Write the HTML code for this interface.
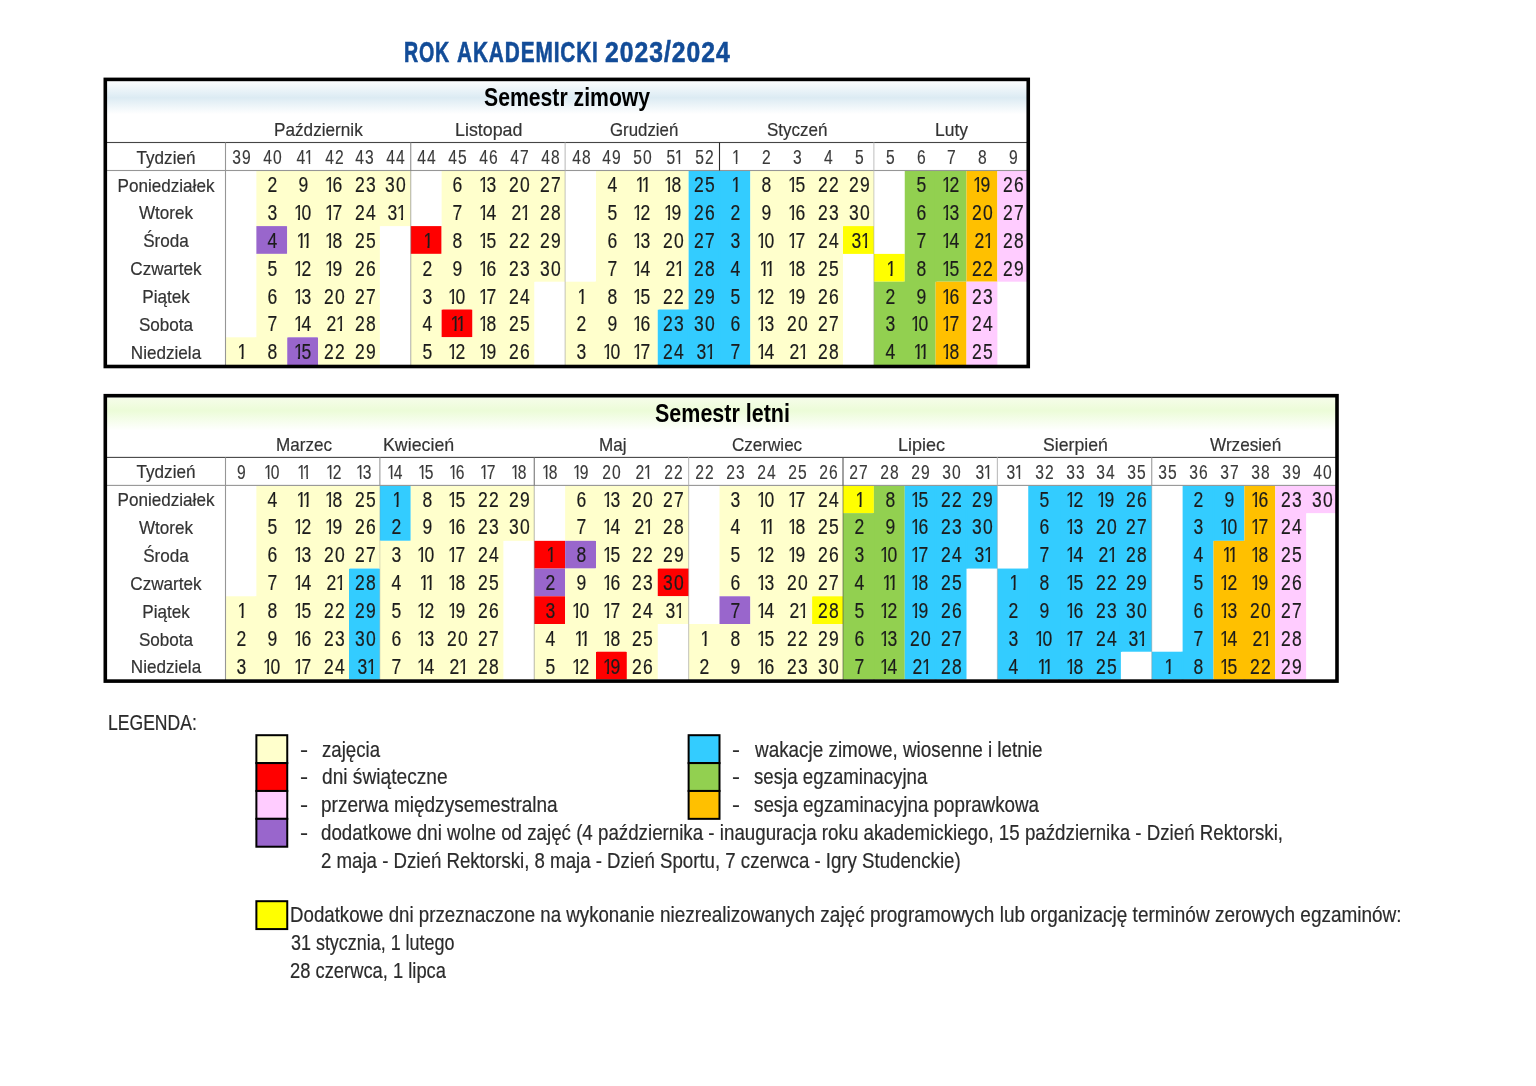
<!DOCTYPE html>
<html lang="pl"><head><meta charset="utf-8"><title>Rok akademicki 2023/2024</title>
<style>
html,body{margin:0;padding:0;background:#fff}
body{width:1536px;height:1086px;position:relative;overflow:hidden;font-family:"Liberation Sans",sans-serif}
svg{position:absolute;left:0;top:0}
span{position:absolute;white-space:nowrap;transform-origin:50% 50%}
span.l{transform-origin:0 50%}
i{font-style:normal;display:inline-block;margin:0 -0.2em 0 -0.09em}
.d i{clip-path:polygon(0 0,100% 0,100% 16px,7.75px 16px,7.75px 100%,5.15px 100%,5.15px 16px,0 16px)}
.wk i{clip-path:polygon(0 0,100% 0,100% 14px,6.8px 14px,6.8px 100%,4.9px 100%,4.9px 14px,0 14px)}
.d{font-size:22.6px;line-height:22.6px;color:#1c1c1c;letter-spacing:1.7px;-webkit-text-stroke:0.2px #1c1c1c}
.wk{font-size:19.8px;line-height:19.8px;color:#3a3a3a;letter-spacing:1.4px;-webkit-text-stroke:0.15px #3a3a3a}
.lab{font-size:19.0px;line-height:19.0px;color:#333333;-webkit-text-stroke:0.2px #333333}
.leg{font-size:21.2px;line-height:21.2px;color:#2b2b2b;-webkit-text-stroke:0.2px #2b2b2b}
.st{font-size:25.2px;line-height:25.2px;color:#000000;font-weight:bold}
.ti{font-size:29.3px;line-height:29.3px;color:#124c98;font-weight:bold;-webkit-text-stroke:0.6px #124c98}
</style></head>
<body>
<svg width="1536" height="1086" viewBox="0 0 1536 1086">
<linearGradient id="g0" x1="0" y1="0" x2="0" y2="1"><stop offset="0" stop-color="#fbfdfe"/><stop offset="0.5" stop-color="#dcebf3"/><stop offset="1" stop-color="#fff"/></linearGradient>
<rect x="105.3" y="81.2" width="922.95" height="33" fill="url(#g0)"/>
<rect x="225.50" y="337.30" width="30.88" height="27.80" fill="#ffffcc"/>
<rect x="256.38" y="170.50" width="30.88" height="55.60" fill="#ffffcc"/>
<rect x="256.38" y="226.10" width="30.88" height="27.80" fill="#9966cc"/>
<rect x="256.38" y="253.90" width="30.88" height="111.20" fill="#ffffcc"/>
<rect x="287.25" y="170.50" width="30.88" height="166.80" fill="#ffffcc"/>
<rect x="287.25" y="337.30" width="30.88" height="27.80" fill="#9966cc"/>
<rect x="318.12" y="170.50" width="30.88" height="194.60" fill="#ffffcc"/>
<rect x="349.00" y="170.50" width="30.88" height="194.60" fill="#ffffcc"/>
<rect x="379.88" y="170.50" width="30.88" height="55.60" fill="#ffffcc"/>
<rect x="410.75" y="226.10" width="30.88" height="27.80" fill="#ff0000"/>
<rect x="410.75" y="253.90" width="30.88" height="111.20" fill="#ffffcc"/>
<rect x="441.62" y="170.50" width="30.88" height="139.00" fill="#ffffcc"/>
<rect x="441.62" y="309.50" width="30.88" height="27.80" fill="#ff0000"/>
<rect x="441.62" y="337.30" width="30.88" height="27.80" fill="#ffffcc"/>
<rect x="472.50" y="170.50" width="30.88" height="194.60" fill="#ffffcc"/>
<rect x="503.38" y="170.50" width="30.88" height="194.60" fill="#ffffcc"/>
<rect x="534.25" y="170.50" width="30.88" height="111.20" fill="#ffffcc"/>
<rect x="565.12" y="281.70" width="30.88" height="83.40" fill="#ffffcc"/>
<rect x="596.00" y="170.50" width="30.88" height="194.60" fill="#ffffcc"/>
<rect x="626.88" y="170.50" width="30.88" height="194.60" fill="#ffffcc"/>
<rect x="657.75" y="170.50" width="30.88" height="139.00" fill="#ffffcc"/>
<rect x="657.75" y="309.50" width="30.88" height="55.60" fill="#33ccff"/>
<rect x="688.62" y="170.50" width="30.88" height="194.60" fill="#33ccff"/>
<rect x="719.50" y="170.50" width="30.88" height="194.60" fill="#33ccff"/>
<rect x="750.38" y="170.50" width="30.88" height="194.60" fill="#ffffcc"/>
<rect x="781.25" y="170.50" width="30.88" height="194.60" fill="#ffffcc"/>
<rect x="812.12" y="170.50" width="30.88" height="194.60" fill="#ffffcc"/>
<rect x="843.00" y="170.50" width="30.88" height="55.60" fill="#ffffcc"/>
<rect x="843.00" y="226.10" width="30.88" height="27.80" fill="#ffff00"/>
<rect x="873.88" y="253.90" width="30.88" height="27.80" fill="#ffff00"/>
<rect x="873.88" y="281.70" width="30.88" height="83.40" fill="#92d050"/>
<rect x="904.75" y="170.50" width="30.88" height="194.60" fill="#92d050"/>
<rect x="935.62" y="170.50" width="30.88" height="111.20" fill="#92d050"/>
<rect x="935.62" y="281.70" width="30.88" height="83.40" fill="#ffc000"/>
<rect x="966.50" y="170.50" width="30.88" height="111.20" fill="#ffc000"/>
<rect x="966.50" y="281.70" width="30.88" height="83.40" fill="#ffccff"/>
<rect x="997.38" y="170.50" width="30.88" height="111.20" fill="#ffccff"/>
<rect x="255.38" y="337.30" width="2.00" height="27.80" fill="#ffffcc"/>
<rect x="286.25" y="170.50" width="2.00" height="55.60" fill="#ffffcc"/>
<rect x="286.25" y="253.90" width="2.00" height="83.40" fill="#ffffcc"/>
<rect x="317.12" y="170.50" width="2.00" height="166.80" fill="#ffffcc"/>
<rect x="348.00" y="170.50" width="2.00" height="194.60" fill="#ffffcc"/>
<rect x="378.88" y="170.50" width="2.00" height="55.60" fill="#ffffcc"/>
<rect x="440.62" y="253.90" width="2.00" height="55.60" fill="#ffffcc"/>
<rect x="440.62" y="337.30" width="2.00" height="27.80" fill="#ffffcc"/>
<rect x="471.50" y="170.50" width="2.00" height="139.00" fill="#ffffcc"/>
<rect x="471.50" y="337.30" width="2.00" height="27.80" fill="#ffffcc"/>
<rect x="502.38" y="170.50" width="2.00" height="194.60" fill="#ffffcc"/>
<rect x="533.25" y="170.50" width="2.00" height="111.20" fill="#ffffcc"/>
<rect x="595.00" y="281.70" width="2.00" height="83.40" fill="#ffffcc"/>
<rect x="625.88" y="170.50" width="2.00" height="194.60" fill="#ffffcc"/>
<rect x="656.75" y="170.50" width="2.00" height="139.00" fill="#ffffcc"/>
<rect x="687.62" y="309.50" width="2.00" height="55.60" fill="#33ccff"/>
<rect x="718.50" y="170.50" width="2.00" height="194.60" fill="#33ccff"/>
<rect x="780.25" y="170.50" width="2.00" height="194.60" fill="#ffffcc"/>
<rect x="811.12" y="170.50" width="2.00" height="194.60" fill="#ffffcc"/>
<rect x="842.00" y="170.50" width="2.00" height="55.60" fill="#ffffcc"/>
<rect x="903.75" y="281.70" width="2.00" height="83.40" fill="#92d050"/>
<rect x="934.62" y="170.50" width="2.00" height="111.20" fill="#92d050"/>
<rect x="105.3" y="141.95" width="922.95" height="1.1" fill="#454545"/>
<rect x="105.3" y="169.95" width="922.95" height="1.1" fill="#969696"/>
<rect x="224.95" y="142.5" width="1.1" height="224" fill="#969696"/>
<rect x="410.2" y="142.5" width="1.1" height="28" fill="#8f8f8f"/>
<rect x="410.2" y="170.5" width="1.1" height="196" fill="rgba(120,120,120,.55)"/>
<rect x="564.575" y="142.5" width="1.1" height="28" fill="#bdbdbd"/>
<rect x="564.575" y="170.5" width="1.1" height="196" fill="rgba(150,150,150,.5)"/>
<rect x="718.95" y="142.5" width="1.1" height="28" fill="#2a2a2a"/>
<rect x="873.325" y="142.5" width="1.1" height="28" fill="#c4c4c4"/>
<rect x="873.325" y="170.5" width="1.1" height="196" fill="rgba(150,150,150,.45)"/>
<rect x="105.3" y="79.4" width="922.95" height="287.1" fill="none" stroke="#000" stroke-width="3.6"/>
<linearGradient id="g72" x1="0" y1="0" x2="0" y2="1"><stop offset="0" stop-color="#f6fdea"/><stop offset="0.4" stop-color="#ecfcd8"/><stop offset="1" stop-color="#fff"/></linearGradient>
<rect x="105.3" y="397.5" width="1231.7" height="33" fill="url(#g72)"/>
<rect x="225.50" y="596.28" width="30.88" height="83.16" fill="#ffffcc"/>
<rect x="256.38" y="485.40" width="30.88" height="194.04" fill="#ffffcc"/>
<rect x="287.25" y="485.40" width="30.88" height="194.04" fill="#ffffcc"/>
<rect x="318.12" y="485.40" width="30.88" height="194.04" fill="#ffffcc"/>
<rect x="349.00" y="485.40" width="30.88" height="83.16" fill="#ffffcc"/>
<rect x="349.00" y="568.56" width="30.88" height="110.88" fill="#33ccff"/>
<rect x="379.88" y="485.40" width="30.88" height="55.44" fill="#33ccff"/>
<rect x="379.88" y="540.84" width="30.88" height="138.60" fill="#ffffcc"/>
<rect x="410.75" y="485.40" width="30.88" height="194.04" fill="#ffffcc"/>
<rect x="441.62" y="485.40" width="30.88" height="194.04" fill="#ffffcc"/>
<rect x="472.50" y="485.40" width="30.88" height="194.04" fill="#ffffcc"/>
<rect x="503.38" y="485.40" width="30.88" height="55.44" fill="#ffffcc"/>
<rect x="534.25" y="540.84" width="30.88" height="27.72" fill="#ff0000"/>
<rect x="534.25" y="568.56" width="30.88" height="27.72" fill="#9966cc"/>
<rect x="534.25" y="596.28" width="30.88" height="27.72" fill="#ff0000"/>
<rect x="534.25" y="624.00" width="30.88" height="55.44" fill="#ffffcc"/>
<rect x="565.12" y="485.40" width="30.88" height="55.44" fill="#ffffcc"/>
<rect x="565.12" y="540.84" width="30.88" height="27.72" fill="#9966cc"/>
<rect x="565.12" y="568.56" width="30.88" height="110.88" fill="#ffffcc"/>
<rect x="596.00" y="485.40" width="30.88" height="166.32" fill="#ffffcc"/>
<rect x="596.00" y="651.72" width="30.88" height="27.72" fill="#ff0000"/>
<rect x="626.88" y="485.40" width="30.88" height="194.04" fill="#ffffcc"/>
<rect x="657.75" y="485.40" width="30.88" height="83.16" fill="#ffffcc"/>
<rect x="657.75" y="568.56" width="30.88" height="27.72" fill="#ff0000"/>
<rect x="657.75" y="596.28" width="30.88" height="27.72" fill="#ffffcc"/>
<rect x="688.62" y="624.00" width="30.88" height="55.44" fill="#ffffcc"/>
<rect x="719.50" y="485.40" width="30.88" height="110.88" fill="#ffffcc"/>
<rect x="719.50" y="596.28" width="30.88" height="27.72" fill="#9966cc"/>
<rect x="719.50" y="624.00" width="30.88" height="55.44" fill="#ffffcc"/>
<rect x="750.38" y="485.40" width="30.88" height="194.04" fill="#ffffcc"/>
<rect x="781.25" y="485.40" width="30.88" height="194.04" fill="#ffffcc"/>
<rect x="812.12" y="485.40" width="30.88" height="110.88" fill="#ffffcc"/>
<rect x="812.12" y="596.28" width="30.88" height="27.72" fill="#ffff00"/>
<rect x="812.12" y="624.00" width="30.88" height="55.44" fill="#ffffcc"/>
<rect x="843.00" y="485.40" width="30.88" height="27.72" fill="#ffff00"/>
<rect x="843.00" y="513.12" width="30.88" height="166.32" fill="#92d050"/>
<rect x="873.88" y="485.40" width="30.88" height="194.04" fill="#92d050"/>
<rect x="904.75" y="485.40" width="30.88" height="194.04" fill="#33ccff"/>
<rect x="935.62" y="485.40" width="30.88" height="194.04" fill="#33ccff"/>
<rect x="966.50" y="485.40" width="30.88" height="83.16" fill="#33ccff"/>
<rect x="997.38" y="568.56" width="30.88" height="110.88" fill="#33ccff"/>
<rect x="1028.25" y="485.40" width="30.88" height="194.04" fill="#33ccff"/>
<rect x="1059.12" y="485.40" width="30.88" height="194.04" fill="#33ccff"/>
<rect x="1090.00" y="485.40" width="30.88" height="194.04" fill="#33ccff"/>
<rect x="1120.88" y="485.40" width="30.88" height="166.32" fill="#33ccff"/>
<rect x="1151.75" y="651.72" width="30.88" height="27.72" fill="#33ccff"/>
<rect x="1182.62" y="485.40" width="30.88" height="194.04" fill="#33ccff"/>
<rect x="1213.50" y="485.40" width="30.88" height="55.44" fill="#33ccff"/>
<rect x="1213.50" y="540.84" width="30.88" height="138.60" fill="#ffc000"/>
<rect x="1244.38" y="485.40" width="30.88" height="194.04" fill="#ffc000"/>
<rect x="1275.25" y="485.40" width="30.88" height="194.04" fill="#ffccff"/>
<rect x="1306.12" y="485.40" width="30.88" height="27.72" fill="#ffccff"/>
<rect x="255.38" y="596.28" width="2.00" height="83.16" fill="#ffffcc"/>
<rect x="286.25" y="485.40" width="2.00" height="194.04" fill="#ffffcc"/>
<rect x="317.12" y="485.40" width="2.00" height="194.04" fill="#ffffcc"/>
<rect x="348.00" y="485.40" width="2.00" height="83.16" fill="#ffffcc"/>
<rect x="378.88" y="540.84" width="2.00" height="27.72" fill="#ffffcc"/>
<rect x="409.75" y="540.84" width="2.00" height="138.60" fill="#ffffcc"/>
<rect x="440.62" y="485.40" width="2.00" height="194.04" fill="#ffffcc"/>
<rect x="471.50" y="485.40" width="2.00" height="194.04" fill="#ffffcc"/>
<rect x="502.38" y="485.40" width="2.00" height="55.44" fill="#ffffcc"/>
<rect x="564.12" y="624.00" width="2.00" height="55.44" fill="#ffffcc"/>
<rect x="595.00" y="485.40" width="2.00" height="55.44" fill="#ffffcc"/>
<rect x="595.00" y="568.56" width="2.00" height="83.16" fill="#ffffcc"/>
<rect x="625.88" y="485.40" width="2.00" height="166.32" fill="#ffffcc"/>
<rect x="656.75" y="485.40" width="2.00" height="83.16" fill="#ffffcc"/>
<rect x="656.75" y="596.28" width="2.00" height="27.72" fill="#ffffcc"/>
<rect x="718.50" y="624.00" width="2.00" height="55.44" fill="#ffffcc"/>
<rect x="749.38" y="485.40" width="2.00" height="110.88" fill="#ffffcc"/>
<rect x="749.38" y="624.00" width="2.00" height="55.44" fill="#ffffcc"/>
<rect x="780.25" y="485.40" width="2.00" height="194.04" fill="#ffffcc"/>
<rect x="811.12" y="485.40" width="2.00" height="110.88" fill="#ffffcc"/>
<rect x="811.12" y="624.00" width="2.00" height="55.44" fill="#ffffcc"/>
<rect x="872.88" y="513.12" width="2.00" height="166.32" fill="#92d050"/>
<rect x="934.62" y="485.40" width="2.00" height="194.04" fill="#33ccff"/>
<rect x="965.50" y="485.40" width="2.00" height="83.16" fill="#33ccff"/>
<rect x="1027.25" y="568.56" width="2.00" height="110.88" fill="#33ccff"/>
<rect x="1058.12" y="485.40" width="2.00" height="194.04" fill="#33ccff"/>
<rect x="1089.00" y="485.40" width="2.00" height="194.04" fill="#33ccff"/>
<rect x="1119.88" y="485.40" width="2.00" height="166.32" fill="#33ccff"/>
<rect x="1181.62" y="651.72" width="2.00" height="27.72" fill="#33ccff"/>
<rect x="1212.50" y="485.40" width="2.00" height="55.44" fill="#33ccff"/>
<rect x="1243.38" y="540.84" width="2.00" height="138.60" fill="#ffc000"/>
<rect x="1305.12" y="485.40" width="2.00" height="27.72" fill="#ffccff"/>
<rect x="105.3" y="456.85" width="1231.7" height="1.1" fill="#454545"/>
<rect x="105.3" y="484.85" width="1231.7" height="1.1" fill="#969696"/>
<rect x="224.95" y="457.4" width="1.1" height="223.7" fill="#969696"/>
<rect x="379.325" y="457.4" width="1.1" height="28" fill="#999"/>
<rect x="379.325" y="485.4" width="1.1" height="195.7" fill="rgba(140,140,140,.3)"/>
<rect x="533.7" y="457.4" width="1.1" height="28" fill="#777"/>
<rect x="533.7" y="485.4" width="1.1" height="195.7" fill="rgba(110,110,110,.45)"/>
<rect x="688.075" y="457.4" width="1.1" height="28" fill="#bdbdbd"/>
<rect x="688.075" y="485.4" width="1.1" height="195.7" fill="rgba(150,150,150,.5)"/>
<rect x="842.45" y="457.4" width="1.1" height="28" fill="#555"/>
<rect x="842.45" y="485.4" width="1.1" height="195.7" fill="rgba(70,70,70,.55)"/>
<rect x="996.825" y="457.4" width="1.1" height="28" fill="#bdbdbd"/>
<rect x="996.825" y="485.4" width="1.1" height="195.7" fill="rgba(150,150,150,.4)"/>
<rect x="1151.2" y="457.4" width="1.1" height="28" fill="#999"/>
<rect x="1151.2" y="485.4" width="1.1" height="195.7" fill="rgba(140,140,140,.4)"/>
<rect x="105.3" y="395.7" width="1231.7" height="285.4" fill="none" stroke="#000" stroke-width="3.6"/>
<rect x="256.375" y="735.2" width="30.875" height="27.88" fill="#ffffcc" stroke="#000" stroke-width="2.0"/>
<rect x="256.375" y="763.08" width="30.875" height="27.88" fill="#ff0000" stroke="#000" stroke-width="2.0"/>
<rect x="256.375" y="790.96" width="30.875" height="27.88" fill="#ffccff" stroke="#000" stroke-width="2.0"/>
<rect x="256.375" y="818.84" width="30.875" height="27.88" fill="#9966cc" stroke="#000" stroke-width="2.0"/>
<rect x="688.625" y="735.2" width="30.875" height="27.88" fill="#33ccff" stroke="#000" stroke-width="2.0"/>
<rect x="688.625" y="763.08" width="30.875" height="27.88" fill="#92d050" stroke="#000" stroke-width="2.0"/>
<rect x="688.625" y="790.96" width="30.875" height="27.88" fill="#ffc000" stroke="#000" stroke-width="2.0"/>
<rect x="256.375" y="901.2" width="30.875" height="27.88" fill="#ffff00" stroke="#000" stroke-width="2.0"/>
</svg>
<span class="lab l" style="left:274.10px;top:120px;transform:scaleX(0.9037)">Październik</span>
<span class="wk" style="left:241.89px;top:148px;transform:translateX(-50%) scaleX(0.79)">39</span>
<span class="wk" style="left:272.76px;top:148px;transform:translateX(-50%) scaleX(0.79)">40</span>
<span class="wk" style="left:303.64px;top:148px;transform:translateX(-50%) scaleX(0.79)">4<i>1</i></span>
<span class="wk" style="left:334.51px;top:148px;transform:translateX(-50%) scaleX(0.79)">42</span>
<span class="wk" style="left:365.39px;top:148px;transform:translateX(-50%) scaleX(0.79)">43</span>
<span class="wk" style="left:396.26px;top:148px;transform:translateX(-50%) scaleX(0.79)">44</span>
<span class="d" style="left:242.34px;top:341px;transform:translateX(-50%) scaleX(0.775)"><i>1</i></span>
<span class="d" style="left:273.21px;top:174px;transform:translateX(-50%) scaleX(0.775)">2</span>
<span class="d" style="left:273.21px;top:202px;transform:translateX(-50%) scaleX(0.775)">3</span>
<span class="d" style="left:273.21px;top:230px;transform:translateX(-50%) scaleX(0.775)">4</span>
<span class="d" style="left:273.21px;top:258px;transform:translateX(-50%) scaleX(0.775)">5</span>
<span class="d" style="left:273.21px;top:286px;transform:translateX(-50%) scaleX(0.775)">6</span>
<span class="d" style="left:273.21px;top:313px;transform:translateX(-50%) scaleX(0.775)">7</span>
<span class="d" style="left:273.21px;top:341px;transform:translateX(-50%) scaleX(0.775)">8</span>
<span class="d" style="left:304.09px;top:174px;transform:translateX(-50%) scaleX(0.775)">9</span>
<span class="d" style="left:303.79px;top:202px;transform:translateX(-50%) scaleX(0.775)"><i>1</i>0</span>
<span class="d" style="left:303.79px;top:230px;transform:translateX(-50%) scaleX(0.775)"><i>1</i><i>1</i></span>
<span class="d" style="left:303.79px;top:258px;transform:translateX(-50%) scaleX(0.775)"><i>1</i>2</span>
<span class="d" style="left:303.79px;top:286px;transform:translateX(-50%) scaleX(0.775)"><i>1</i>3</span>
<span class="d" style="left:303.79px;top:313px;transform:translateX(-50%) scaleX(0.775)"><i>1</i>4</span>
<span class="d" style="left:303.79px;top:341px;transform:translateX(-50%) scaleX(0.775)"><i>1</i>5</span>
<span class="d" style="left:334.66px;top:174px;transform:translateX(-50%) scaleX(0.775)"><i>1</i>6</span>
<span class="d" style="left:334.66px;top:202px;transform:translateX(-50%) scaleX(0.775)"><i>1</i>7</span>
<span class="d" style="left:334.66px;top:230px;transform:translateX(-50%) scaleX(0.775)"><i>1</i>8</span>
<span class="d" style="left:334.66px;top:258px;transform:translateX(-50%) scaleX(0.775)"><i>1</i>9</span>
<span class="d" style="left:334.66px;top:286px;transform:translateX(-50%) scaleX(0.775)">20</span>
<span class="d" style="left:334.66px;top:313px;transform:translateX(-50%) scaleX(0.775)">2<i>1</i></span>
<span class="d" style="left:334.66px;top:341px;transform:translateX(-50%) scaleX(0.775)">22</span>
<span class="d" style="left:365.54px;top:174px;transform:translateX(-50%) scaleX(0.775)">23</span>
<span class="d" style="left:365.54px;top:202px;transform:translateX(-50%) scaleX(0.775)">24</span>
<span class="d" style="left:365.54px;top:230px;transform:translateX(-50%) scaleX(0.775)">25</span>
<span class="d" style="left:365.54px;top:258px;transform:translateX(-50%) scaleX(0.775)">26</span>
<span class="d" style="left:365.54px;top:286px;transform:translateX(-50%) scaleX(0.775)">27</span>
<span class="d" style="left:365.54px;top:313px;transform:translateX(-50%) scaleX(0.775)">28</span>
<span class="d" style="left:365.54px;top:341px;transform:translateX(-50%) scaleX(0.775)">29</span>
<span class="d" style="left:396.41px;top:174px;transform:translateX(-50%) scaleX(0.775)">30</span>
<span class="d" style="left:396.41px;top:202px;transform:translateX(-50%) scaleX(0.775)">3<i>1</i></span>
<span class="lab l" style="left:455.06px;top:120px;transform:scaleX(0.9393)">Listopad</span>
<span class="wk" style="left:427.14px;top:148px;transform:translateX(-50%) scaleX(0.79)">44</span>
<span class="wk" style="left:458.01px;top:148px;transform:translateX(-50%) scaleX(0.79)">45</span>
<span class="wk" style="left:488.89px;top:148px;transform:translateX(-50%) scaleX(0.79)">46</span>
<span class="wk" style="left:519.76px;top:148px;transform:translateX(-50%) scaleX(0.79)">47</span>
<span class="wk" style="left:550.64px;top:148px;transform:translateX(-50%) scaleX(0.79)">48</span>
<span class="d" style="left:427.59px;top:230px;transform:translateX(-50%) scaleX(0.775)"><i>1</i></span>
<span class="d" style="left:427.59px;top:258px;transform:translateX(-50%) scaleX(0.775)">2</span>
<span class="d" style="left:427.59px;top:286px;transform:translateX(-50%) scaleX(0.775)">3</span>
<span class="d" style="left:427.59px;top:313px;transform:translateX(-50%) scaleX(0.775)">4</span>
<span class="d" style="left:427.59px;top:341px;transform:translateX(-50%) scaleX(0.775)">5</span>
<span class="d" style="left:458.46px;top:174px;transform:translateX(-50%) scaleX(0.775)">6</span>
<span class="d" style="left:458.46px;top:202px;transform:translateX(-50%) scaleX(0.775)">7</span>
<span class="d" style="left:458.46px;top:230px;transform:translateX(-50%) scaleX(0.775)">8</span>
<span class="d" style="left:458.46px;top:258px;transform:translateX(-50%) scaleX(0.775)">9</span>
<span class="d" style="left:458.16px;top:286px;transform:translateX(-50%) scaleX(0.775)"><i>1</i>0</span>
<span class="d" style="left:458.16px;top:313px;transform:translateX(-50%) scaleX(0.775)"><i>1</i><i>1</i></span>
<span class="d" style="left:458.16px;top:341px;transform:translateX(-50%) scaleX(0.775)"><i>1</i>2</span>
<span class="d" style="left:489.04px;top:174px;transform:translateX(-50%) scaleX(0.775)"><i>1</i>3</span>
<span class="d" style="left:489.04px;top:202px;transform:translateX(-50%) scaleX(0.775)"><i>1</i>4</span>
<span class="d" style="left:489.04px;top:230px;transform:translateX(-50%) scaleX(0.775)"><i>1</i>5</span>
<span class="d" style="left:489.04px;top:258px;transform:translateX(-50%) scaleX(0.775)"><i>1</i>6</span>
<span class="d" style="left:489.04px;top:286px;transform:translateX(-50%) scaleX(0.775)"><i>1</i>7</span>
<span class="d" style="left:489.04px;top:313px;transform:translateX(-50%) scaleX(0.775)"><i>1</i>8</span>
<span class="d" style="left:489.04px;top:341px;transform:translateX(-50%) scaleX(0.775)"><i>1</i>9</span>
<span class="d" style="left:519.91px;top:174px;transform:translateX(-50%) scaleX(0.775)">20</span>
<span class="d" style="left:519.91px;top:202px;transform:translateX(-50%) scaleX(0.775)">2<i>1</i></span>
<span class="d" style="left:519.91px;top:230px;transform:translateX(-50%) scaleX(0.775)">22</span>
<span class="d" style="left:519.91px;top:258px;transform:translateX(-50%) scaleX(0.775)">23</span>
<span class="d" style="left:519.91px;top:286px;transform:translateX(-50%) scaleX(0.775)">24</span>
<span class="d" style="left:519.91px;top:313px;transform:translateX(-50%) scaleX(0.775)">25</span>
<span class="d" style="left:519.91px;top:341px;transform:translateX(-50%) scaleX(0.775)">26</span>
<span class="d" style="left:550.79px;top:174px;transform:translateX(-50%) scaleX(0.775)">27</span>
<span class="d" style="left:550.79px;top:202px;transform:translateX(-50%) scaleX(0.775)">28</span>
<span class="d" style="left:550.79px;top:230px;transform:translateX(-50%) scaleX(0.775)">29</span>
<span class="d" style="left:550.79px;top:258px;transform:translateX(-50%) scaleX(0.775)">30</span>
<span class="lab l" style="left:609.60px;top:120px;transform:scaleX(0.886)">Grudzień</span>
<span class="wk" style="left:581.51px;top:148px;transform:translateX(-50%) scaleX(0.79)">48</span>
<span class="wk" style="left:612.39px;top:148px;transform:translateX(-50%) scaleX(0.79)">49</span>
<span class="wk" style="left:643.26px;top:148px;transform:translateX(-50%) scaleX(0.79)">50</span>
<span class="wk" style="left:674.14px;top:148px;transform:translateX(-50%) scaleX(0.79)">5<i>1</i></span>
<span class="wk" style="left:705.01px;top:148px;transform:translateX(-50%) scaleX(0.79)">52</span>
<span class="d" style="left:581.96px;top:286px;transform:translateX(-50%) scaleX(0.775)"><i>1</i></span>
<span class="d" style="left:581.96px;top:313px;transform:translateX(-50%) scaleX(0.775)">2</span>
<span class="d" style="left:581.96px;top:341px;transform:translateX(-50%) scaleX(0.775)">3</span>
<span class="d" style="left:612.84px;top:174px;transform:translateX(-50%) scaleX(0.775)">4</span>
<span class="d" style="left:612.84px;top:202px;transform:translateX(-50%) scaleX(0.775)">5</span>
<span class="d" style="left:612.84px;top:230px;transform:translateX(-50%) scaleX(0.775)">6</span>
<span class="d" style="left:612.84px;top:258px;transform:translateX(-50%) scaleX(0.775)">7</span>
<span class="d" style="left:612.84px;top:286px;transform:translateX(-50%) scaleX(0.775)">8</span>
<span class="d" style="left:612.84px;top:313px;transform:translateX(-50%) scaleX(0.775)">9</span>
<span class="d" style="left:612.54px;top:341px;transform:translateX(-50%) scaleX(0.775)"><i>1</i>0</span>
<span class="d" style="left:643.41px;top:174px;transform:translateX(-50%) scaleX(0.775)"><i>1</i><i>1</i></span>
<span class="d" style="left:643.41px;top:202px;transform:translateX(-50%) scaleX(0.775)"><i>1</i>2</span>
<span class="d" style="left:643.41px;top:230px;transform:translateX(-50%) scaleX(0.775)"><i>1</i>3</span>
<span class="d" style="left:643.41px;top:258px;transform:translateX(-50%) scaleX(0.775)"><i>1</i>4</span>
<span class="d" style="left:643.41px;top:286px;transform:translateX(-50%) scaleX(0.775)"><i>1</i>5</span>
<span class="d" style="left:643.41px;top:313px;transform:translateX(-50%) scaleX(0.775)"><i>1</i>6</span>
<span class="d" style="left:643.41px;top:341px;transform:translateX(-50%) scaleX(0.775)"><i>1</i>7</span>
<span class="d" style="left:674.29px;top:174px;transform:translateX(-50%) scaleX(0.775)"><i>1</i>8</span>
<span class="d" style="left:674.29px;top:202px;transform:translateX(-50%) scaleX(0.775)"><i>1</i>9</span>
<span class="d" style="left:674.29px;top:230px;transform:translateX(-50%) scaleX(0.775)">20</span>
<span class="d" style="left:674.29px;top:258px;transform:translateX(-50%) scaleX(0.775)">2<i>1</i></span>
<span class="d" style="left:674.29px;top:286px;transform:translateX(-50%) scaleX(0.775)">22</span>
<span class="d" style="left:674.29px;top:313px;transform:translateX(-50%) scaleX(0.775)">23</span>
<span class="d" style="left:674.29px;top:341px;transform:translateX(-50%) scaleX(0.775)">24</span>
<span class="d" style="left:705.16px;top:174px;transform:translateX(-50%) scaleX(0.775)">25</span>
<span class="d" style="left:705.16px;top:202px;transform:translateX(-50%) scaleX(0.775)">26</span>
<span class="d" style="left:705.16px;top:230px;transform:translateX(-50%) scaleX(0.775)">27</span>
<span class="d" style="left:705.16px;top:258px;transform:translateX(-50%) scaleX(0.775)">28</span>
<span class="d" style="left:705.16px;top:286px;transform:translateX(-50%) scaleX(0.775)">29</span>
<span class="d" style="left:705.16px;top:313px;transform:translateX(-50%) scaleX(0.775)">30</span>
<span class="d" style="left:705.16px;top:341px;transform:translateX(-50%) scaleX(0.775)">3<i>1</i></span>
<span class="lab l" style="left:767.30px;top:120px;transform:scaleX(0.8953)">Styczeń</span>
<span class="wk" style="left:736.29px;top:148px;transform:translateX(-50%) scaleX(0.79)"><i>1</i></span>
<span class="wk" style="left:767.16px;top:148px;transform:translateX(-50%) scaleX(0.79)">2</span>
<span class="wk" style="left:798.04px;top:148px;transform:translateX(-50%) scaleX(0.79)">3</span>
<span class="wk" style="left:828.91px;top:148px;transform:translateX(-50%) scaleX(0.79)">4</span>
<span class="wk" style="left:859.79px;top:148px;transform:translateX(-50%) scaleX(0.79)">5</span>
<span class="d" style="left:736.34px;top:174px;transform:translateX(-50%) scaleX(0.775)"><i>1</i></span>
<span class="d" style="left:736.34px;top:202px;transform:translateX(-50%) scaleX(0.775)">2</span>
<span class="d" style="left:736.34px;top:230px;transform:translateX(-50%) scaleX(0.775)">3</span>
<span class="d" style="left:736.34px;top:258px;transform:translateX(-50%) scaleX(0.775)">4</span>
<span class="d" style="left:736.34px;top:286px;transform:translateX(-50%) scaleX(0.775)">5</span>
<span class="d" style="left:736.34px;top:313px;transform:translateX(-50%) scaleX(0.775)">6</span>
<span class="d" style="left:736.34px;top:341px;transform:translateX(-50%) scaleX(0.775)">7</span>
<span class="d" style="left:767.21px;top:174px;transform:translateX(-50%) scaleX(0.775)">8</span>
<span class="d" style="left:767.21px;top:202px;transform:translateX(-50%) scaleX(0.775)">9</span>
<span class="d" style="left:766.91px;top:230px;transform:translateX(-50%) scaleX(0.775)"><i>1</i>0</span>
<span class="d" style="left:766.91px;top:258px;transform:translateX(-50%) scaleX(0.775)"><i>1</i><i>1</i></span>
<span class="d" style="left:766.91px;top:286px;transform:translateX(-50%) scaleX(0.775)"><i>1</i>2</span>
<span class="d" style="left:766.91px;top:313px;transform:translateX(-50%) scaleX(0.775)"><i>1</i>3</span>
<span class="d" style="left:766.91px;top:341px;transform:translateX(-50%) scaleX(0.775)"><i>1</i>4</span>
<span class="d" style="left:797.79px;top:174px;transform:translateX(-50%) scaleX(0.775)"><i>1</i>5</span>
<span class="d" style="left:797.79px;top:202px;transform:translateX(-50%) scaleX(0.775)"><i>1</i>6</span>
<span class="d" style="left:797.79px;top:230px;transform:translateX(-50%) scaleX(0.775)"><i>1</i>7</span>
<span class="d" style="left:797.79px;top:258px;transform:translateX(-50%) scaleX(0.775)"><i>1</i>8</span>
<span class="d" style="left:797.79px;top:286px;transform:translateX(-50%) scaleX(0.775)"><i>1</i>9</span>
<span class="d" style="left:797.79px;top:313px;transform:translateX(-50%) scaleX(0.775)">20</span>
<span class="d" style="left:797.79px;top:341px;transform:translateX(-50%) scaleX(0.775)">2<i>1</i></span>
<span class="d" style="left:828.66px;top:174px;transform:translateX(-50%) scaleX(0.775)">22</span>
<span class="d" style="left:828.66px;top:202px;transform:translateX(-50%) scaleX(0.775)">23</span>
<span class="d" style="left:828.66px;top:230px;transform:translateX(-50%) scaleX(0.775)">24</span>
<span class="d" style="left:828.66px;top:258px;transform:translateX(-50%) scaleX(0.775)">25</span>
<span class="d" style="left:828.66px;top:286px;transform:translateX(-50%) scaleX(0.775)">26</span>
<span class="d" style="left:828.66px;top:313px;transform:translateX(-50%) scaleX(0.775)">27</span>
<span class="d" style="left:828.66px;top:341px;transform:translateX(-50%) scaleX(0.775)">28</span>
<span class="d" style="left:859.54px;top:174px;transform:translateX(-50%) scaleX(0.775)">29</span>
<span class="d" style="left:859.54px;top:202px;transform:translateX(-50%) scaleX(0.775)">30</span>
<span class="d" style="left:859.54px;top:230px;transform:translateX(-50%) scaleX(0.775)">3<i>1</i></span>
<span class="lab l" style="left:934.88px;top:120px;transform:scaleX(0.9178)">Luty</span>
<span class="wk" style="left:890.66px;top:148px;transform:translateX(-50%) scaleX(0.79)">5</span>
<span class="wk" style="left:921.54px;top:148px;transform:translateX(-50%) scaleX(0.79)">6</span>
<span class="wk" style="left:952.41px;top:148px;transform:translateX(-50%) scaleX(0.79)">7</span>
<span class="wk" style="left:983.29px;top:148px;transform:translateX(-50%) scaleX(0.79)">8</span>
<span class="wk" style="left:1014.16px;top:148px;transform:translateX(-50%) scaleX(0.79)">9</span>
<span class="d" style="left:890.71px;top:258px;transform:translateX(-50%) scaleX(0.775)"><i>1</i></span>
<span class="d" style="left:890.71px;top:286px;transform:translateX(-50%) scaleX(0.775)">2</span>
<span class="d" style="left:890.71px;top:313px;transform:translateX(-50%) scaleX(0.775)">3</span>
<span class="d" style="left:890.71px;top:341px;transform:translateX(-50%) scaleX(0.775)">4</span>
<span class="d" style="left:921.59px;top:174px;transform:translateX(-50%) scaleX(0.775)">5</span>
<span class="d" style="left:921.59px;top:202px;transform:translateX(-50%) scaleX(0.775)">6</span>
<span class="d" style="left:921.59px;top:230px;transform:translateX(-50%) scaleX(0.775)">7</span>
<span class="d" style="left:921.59px;top:258px;transform:translateX(-50%) scaleX(0.775)">8</span>
<span class="d" style="left:921.59px;top:286px;transform:translateX(-50%) scaleX(0.775)">9</span>
<span class="d" style="left:921.29px;top:313px;transform:translateX(-50%) scaleX(0.775)"><i>1</i>0</span>
<span class="d" style="left:921.29px;top:341px;transform:translateX(-50%) scaleX(0.775)"><i>1</i><i>1</i></span>
<span class="d" style="left:952.16px;top:174px;transform:translateX(-50%) scaleX(0.775)"><i>1</i>2</span>
<span class="d" style="left:952.16px;top:202px;transform:translateX(-50%) scaleX(0.775)"><i>1</i>3</span>
<span class="d" style="left:952.16px;top:230px;transform:translateX(-50%) scaleX(0.775)"><i>1</i>4</span>
<span class="d" style="left:952.16px;top:258px;transform:translateX(-50%) scaleX(0.775)"><i>1</i>5</span>
<span class="d" style="left:952.16px;top:286px;transform:translateX(-50%) scaleX(0.775)"><i>1</i>6</span>
<span class="d" style="left:952.16px;top:313px;transform:translateX(-50%) scaleX(0.775)"><i>1</i>7</span>
<span class="d" style="left:952.16px;top:341px;transform:translateX(-50%) scaleX(0.775)"><i>1</i>8</span>
<span class="d" style="left:983.04px;top:174px;transform:translateX(-50%) scaleX(0.775)"><i>1</i>9</span>
<span class="d" style="left:983.04px;top:202px;transform:translateX(-50%) scaleX(0.775)">20</span>
<span class="d" style="left:983.04px;top:230px;transform:translateX(-50%) scaleX(0.775)">2<i>1</i></span>
<span class="d" style="left:983.04px;top:258px;transform:translateX(-50%) scaleX(0.775)">22</span>
<span class="d" style="left:983.04px;top:286px;transform:translateX(-50%) scaleX(0.775)">23</span>
<span class="d" style="left:983.04px;top:313px;transform:translateX(-50%) scaleX(0.775)">24</span>
<span class="d" style="left:983.04px;top:341px;transform:translateX(-50%) scaleX(0.775)">25</span>
<span class="d" style="left:1013.91px;top:174px;transform:translateX(-50%) scaleX(0.775)">26</span>
<span class="d" style="left:1013.91px;top:202px;transform:translateX(-50%) scaleX(0.775)">27</span>
<span class="d" style="left:1013.91px;top:230px;transform:translateX(-50%) scaleX(0.775)">28</span>
<span class="d" style="left:1013.91px;top:258px;transform:translateX(-50%) scaleX(0.775)">29</span>
<span class="lab" style="left:165.90px;top:148px;transform:translateX(-50%) scaleX(0.9)">Tydzień</span>
<span class="lab" style="left:165.90px;top:176px;transform:translateX(-50%) scaleX(0.9)">Poniedziałek</span>
<span class="lab" style="left:165.90px;top:203px;transform:translateX(-50%) scaleX(0.9)">Wtorek</span>
<span class="lab" style="left:165.90px;top:231px;transform:translateX(-50%) scaleX(0.9)">Środa</span>
<span class="lab" style="left:165.90px;top:259px;transform:translateX(-50%) scaleX(0.9)">Czwartek</span>
<span class="lab" style="left:165.90px;top:287px;transform:translateX(-50%) scaleX(0.9)">Piątek</span>
<span class="lab" style="left:165.90px;top:315px;transform:translateX(-50%) scaleX(0.9)">Sobota</span>
<span class="lab" style="left:165.90px;top:343px;transform:translateX(-50%) scaleX(0.9)">Niedziela</span>
<span class="st l" style="left:484.30px;top:85px;transform:scaleX(0.8416)">Semestr zimowy</span>
<span class="lab l" style="left:275.70px;top:435px;transform:scaleX(0.8982)">Marzec</span>
<span class="wk" style="left:242.29px;top:463px;transform:translateX(-50%) scaleX(0.79)">9</span>
<span class="wk" style="left:272.76px;top:463px;transform:translateX(-50%) scaleX(0.79)"><i>1</i>0</span>
<span class="wk" style="left:303.64px;top:463px;transform:translateX(-50%) scaleX(0.79)"><i>1</i><i>1</i></span>
<span class="wk" style="left:334.51px;top:463px;transform:translateX(-50%) scaleX(0.79)"><i>1</i>2</span>
<span class="wk" style="left:365.39px;top:463px;transform:translateX(-50%) scaleX(0.79)"><i>1</i>3</span>
<span class="d" style="left:242.34px;top:600px;transform:translateX(-50%) scaleX(0.775)"><i>1</i></span>
<span class="d" style="left:242.34px;top:628px;transform:translateX(-50%) scaleX(0.775)">2</span>
<span class="d" style="left:242.34px;top:656px;transform:translateX(-50%) scaleX(0.775)">3</span>
<span class="d" style="left:273.21px;top:489px;transform:translateX(-50%) scaleX(0.775)">4</span>
<span class="d" style="left:273.21px;top:516px;transform:translateX(-50%) scaleX(0.775)">5</span>
<span class="d" style="left:273.21px;top:544px;transform:translateX(-50%) scaleX(0.775)">6</span>
<span class="d" style="left:273.21px;top:572px;transform:translateX(-50%) scaleX(0.775)">7</span>
<span class="d" style="left:273.21px;top:600px;transform:translateX(-50%) scaleX(0.775)">8</span>
<span class="d" style="left:273.21px;top:628px;transform:translateX(-50%) scaleX(0.775)">9</span>
<span class="d" style="left:272.91px;top:656px;transform:translateX(-50%) scaleX(0.775)"><i>1</i>0</span>
<span class="d" style="left:303.79px;top:489px;transform:translateX(-50%) scaleX(0.775)"><i>1</i><i>1</i></span>
<span class="d" style="left:303.79px;top:516px;transform:translateX(-50%) scaleX(0.775)"><i>1</i>2</span>
<span class="d" style="left:303.79px;top:544px;transform:translateX(-50%) scaleX(0.775)"><i>1</i>3</span>
<span class="d" style="left:303.79px;top:572px;transform:translateX(-50%) scaleX(0.775)"><i>1</i>4</span>
<span class="d" style="left:303.79px;top:600px;transform:translateX(-50%) scaleX(0.775)"><i>1</i>5</span>
<span class="d" style="left:303.79px;top:628px;transform:translateX(-50%) scaleX(0.775)"><i>1</i>6</span>
<span class="d" style="left:303.79px;top:656px;transform:translateX(-50%) scaleX(0.775)"><i>1</i>7</span>
<span class="d" style="left:334.66px;top:489px;transform:translateX(-50%) scaleX(0.775)"><i>1</i>8</span>
<span class="d" style="left:334.66px;top:516px;transform:translateX(-50%) scaleX(0.775)"><i>1</i>9</span>
<span class="d" style="left:334.66px;top:544px;transform:translateX(-50%) scaleX(0.775)">20</span>
<span class="d" style="left:334.66px;top:572px;transform:translateX(-50%) scaleX(0.775)">2<i>1</i></span>
<span class="d" style="left:334.66px;top:600px;transform:translateX(-50%) scaleX(0.775)">22</span>
<span class="d" style="left:334.66px;top:628px;transform:translateX(-50%) scaleX(0.775)">23</span>
<span class="d" style="left:334.66px;top:656px;transform:translateX(-50%) scaleX(0.775)">24</span>
<span class="d" style="left:365.54px;top:489px;transform:translateX(-50%) scaleX(0.775)">25</span>
<span class="d" style="left:365.54px;top:516px;transform:translateX(-50%) scaleX(0.775)">26</span>
<span class="d" style="left:365.54px;top:544px;transform:translateX(-50%) scaleX(0.775)">27</span>
<span class="d" style="left:365.54px;top:572px;transform:translateX(-50%) scaleX(0.775)">28</span>
<span class="d" style="left:365.54px;top:600px;transform:translateX(-50%) scaleX(0.775)">29</span>
<span class="d" style="left:365.54px;top:628px;transform:translateX(-50%) scaleX(0.775)">30</span>
<span class="d" style="left:365.54px;top:656px;transform:translateX(-50%) scaleX(0.775)">3<i>1</i></span>
<span class="lab l" style="left:382.76px;top:435px;transform:scaleX(0.9359)">Kwiecień</span>
<span class="wk" style="left:396.26px;top:463px;transform:translateX(-50%) scaleX(0.79)"><i>1</i>4</span>
<span class="wk" style="left:427.14px;top:463px;transform:translateX(-50%) scaleX(0.79)"><i>1</i>5</span>
<span class="wk" style="left:458.01px;top:463px;transform:translateX(-50%) scaleX(0.79)"><i>1</i>6</span>
<span class="wk" style="left:488.89px;top:463px;transform:translateX(-50%) scaleX(0.79)"><i>1</i>7</span>
<span class="wk" style="left:519.76px;top:463px;transform:translateX(-50%) scaleX(0.79)"><i>1</i>8</span>
<span class="d" style="left:396.71px;top:489px;transform:translateX(-50%) scaleX(0.775)"><i>1</i></span>
<span class="d" style="left:396.71px;top:516px;transform:translateX(-50%) scaleX(0.775)">2</span>
<span class="d" style="left:396.71px;top:544px;transform:translateX(-50%) scaleX(0.775)">3</span>
<span class="d" style="left:396.71px;top:572px;transform:translateX(-50%) scaleX(0.775)">4</span>
<span class="d" style="left:396.71px;top:600px;transform:translateX(-50%) scaleX(0.775)">5</span>
<span class="d" style="left:396.71px;top:628px;transform:translateX(-50%) scaleX(0.775)">6</span>
<span class="d" style="left:396.71px;top:656px;transform:translateX(-50%) scaleX(0.775)">7</span>
<span class="d" style="left:427.59px;top:489px;transform:translateX(-50%) scaleX(0.775)">8</span>
<span class="d" style="left:427.59px;top:516px;transform:translateX(-50%) scaleX(0.775)">9</span>
<span class="d" style="left:427.29px;top:544px;transform:translateX(-50%) scaleX(0.775)"><i>1</i>0</span>
<span class="d" style="left:427.29px;top:572px;transform:translateX(-50%) scaleX(0.775)"><i>1</i><i>1</i></span>
<span class="d" style="left:427.29px;top:600px;transform:translateX(-50%) scaleX(0.775)"><i>1</i>2</span>
<span class="d" style="left:427.29px;top:628px;transform:translateX(-50%) scaleX(0.775)"><i>1</i>3</span>
<span class="d" style="left:427.29px;top:656px;transform:translateX(-50%) scaleX(0.775)"><i>1</i>4</span>
<span class="d" style="left:458.16px;top:489px;transform:translateX(-50%) scaleX(0.775)"><i>1</i>5</span>
<span class="d" style="left:458.16px;top:516px;transform:translateX(-50%) scaleX(0.775)"><i>1</i>6</span>
<span class="d" style="left:458.16px;top:544px;transform:translateX(-50%) scaleX(0.775)"><i>1</i>7</span>
<span class="d" style="left:458.16px;top:572px;transform:translateX(-50%) scaleX(0.775)"><i>1</i>8</span>
<span class="d" style="left:458.16px;top:600px;transform:translateX(-50%) scaleX(0.775)"><i>1</i>9</span>
<span class="d" style="left:458.16px;top:628px;transform:translateX(-50%) scaleX(0.775)">20</span>
<span class="d" style="left:458.16px;top:656px;transform:translateX(-50%) scaleX(0.775)">2<i>1</i></span>
<span class="d" style="left:489.04px;top:489px;transform:translateX(-50%) scaleX(0.775)">22</span>
<span class="d" style="left:489.04px;top:516px;transform:translateX(-50%) scaleX(0.775)">23</span>
<span class="d" style="left:489.04px;top:544px;transform:translateX(-50%) scaleX(0.775)">24</span>
<span class="d" style="left:489.04px;top:572px;transform:translateX(-50%) scaleX(0.775)">25</span>
<span class="d" style="left:489.04px;top:600px;transform:translateX(-50%) scaleX(0.775)">26</span>
<span class="d" style="left:489.04px;top:628px;transform:translateX(-50%) scaleX(0.775)">27</span>
<span class="d" style="left:489.04px;top:656px;transform:translateX(-50%) scaleX(0.775)">28</span>
<span class="d" style="left:519.91px;top:489px;transform:translateX(-50%) scaleX(0.775)">29</span>
<span class="d" style="left:519.91px;top:516px;transform:translateX(-50%) scaleX(0.775)">30</span>
<span class="lab l" style="left:598.90px;top:435px;transform:scaleX(0.8981)">Maj</span>
<span class="wk" style="left:550.64px;top:463px;transform:translateX(-50%) scaleX(0.79)"><i>1</i>8</span>
<span class="wk" style="left:581.51px;top:463px;transform:translateX(-50%) scaleX(0.79)"><i>1</i>9</span>
<span class="wk" style="left:612.39px;top:463px;transform:translateX(-50%) scaleX(0.79)">20</span>
<span class="wk" style="left:643.26px;top:463px;transform:translateX(-50%) scaleX(0.79)">2<i>1</i></span>
<span class="wk" style="left:674.14px;top:463px;transform:translateX(-50%) scaleX(0.79)">22</span>
<span class="d" style="left:551.09px;top:544px;transform:translateX(-50%) scaleX(0.775)"><i>1</i></span>
<span class="d" style="left:551.09px;top:572px;transform:translateX(-50%) scaleX(0.775)">2</span>
<span class="d" style="left:551.09px;top:600px;transform:translateX(-50%) scaleX(0.775)">3</span>
<span class="d" style="left:551.09px;top:628px;transform:translateX(-50%) scaleX(0.775)">4</span>
<span class="d" style="left:551.09px;top:656px;transform:translateX(-50%) scaleX(0.775)">5</span>
<span class="d" style="left:581.96px;top:489px;transform:translateX(-50%) scaleX(0.775)">6</span>
<span class="d" style="left:581.96px;top:516px;transform:translateX(-50%) scaleX(0.775)">7</span>
<span class="d" style="left:581.96px;top:544px;transform:translateX(-50%) scaleX(0.775)">8</span>
<span class="d" style="left:581.96px;top:572px;transform:translateX(-50%) scaleX(0.775)">9</span>
<span class="d" style="left:581.66px;top:600px;transform:translateX(-50%) scaleX(0.775)"><i>1</i>0</span>
<span class="d" style="left:581.66px;top:628px;transform:translateX(-50%) scaleX(0.775)"><i>1</i><i>1</i></span>
<span class="d" style="left:581.66px;top:656px;transform:translateX(-50%) scaleX(0.775)"><i>1</i>2</span>
<span class="d" style="left:612.54px;top:489px;transform:translateX(-50%) scaleX(0.775)"><i>1</i>3</span>
<span class="d" style="left:612.54px;top:516px;transform:translateX(-50%) scaleX(0.775)"><i>1</i>4</span>
<span class="d" style="left:612.54px;top:544px;transform:translateX(-50%) scaleX(0.775)"><i>1</i>5</span>
<span class="d" style="left:612.54px;top:572px;transform:translateX(-50%) scaleX(0.775)"><i>1</i>6</span>
<span class="d" style="left:612.54px;top:600px;transform:translateX(-50%) scaleX(0.775)"><i>1</i>7</span>
<span class="d" style="left:612.54px;top:628px;transform:translateX(-50%) scaleX(0.775)"><i>1</i>8</span>
<span class="d" style="left:612.54px;top:656px;transform:translateX(-50%) scaleX(0.775)"><i>1</i>9</span>
<span class="d" style="left:643.41px;top:489px;transform:translateX(-50%) scaleX(0.775)">20</span>
<span class="d" style="left:643.41px;top:516px;transform:translateX(-50%) scaleX(0.775)">2<i>1</i></span>
<span class="d" style="left:643.41px;top:544px;transform:translateX(-50%) scaleX(0.775)">22</span>
<span class="d" style="left:643.41px;top:572px;transform:translateX(-50%) scaleX(0.775)">23</span>
<span class="d" style="left:643.41px;top:600px;transform:translateX(-50%) scaleX(0.775)">24</span>
<span class="d" style="left:643.41px;top:628px;transform:translateX(-50%) scaleX(0.775)">25</span>
<span class="d" style="left:643.41px;top:656px;transform:translateX(-50%) scaleX(0.775)">26</span>
<span class="d" style="left:674.29px;top:489px;transform:translateX(-50%) scaleX(0.775)">27</span>
<span class="d" style="left:674.29px;top:516px;transform:translateX(-50%) scaleX(0.775)">28</span>
<span class="d" style="left:674.29px;top:544px;transform:translateX(-50%) scaleX(0.775)">29</span>
<span class="d" style="left:674.29px;top:572px;transform:translateX(-50%) scaleX(0.775)">30</span>
<span class="d" style="left:674.29px;top:600px;transform:translateX(-50%) scaleX(0.775)">3<i>1</i></span>
<span class="lab l" style="left:732.00px;top:435px;transform:scaleX(0.8979)">Czerwiec</span>
<span class="wk" style="left:705.01px;top:463px;transform:translateX(-50%) scaleX(0.79)">22</span>
<span class="wk" style="left:735.89px;top:463px;transform:translateX(-50%) scaleX(0.79)">23</span>
<span class="wk" style="left:766.76px;top:463px;transform:translateX(-50%) scaleX(0.79)">24</span>
<span class="wk" style="left:797.64px;top:463px;transform:translateX(-50%) scaleX(0.79)">25</span>
<span class="wk" style="left:828.51px;top:463px;transform:translateX(-50%) scaleX(0.79)">26</span>
<span class="d" style="left:705.46px;top:628px;transform:translateX(-50%) scaleX(0.775)"><i>1</i></span>
<span class="d" style="left:705.46px;top:656px;transform:translateX(-50%) scaleX(0.775)">2</span>
<span class="d" style="left:736.34px;top:489px;transform:translateX(-50%) scaleX(0.775)">3</span>
<span class="d" style="left:736.34px;top:516px;transform:translateX(-50%) scaleX(0.775)">4</span>
<span class="d" style="left:736.34px;top:544px;transform:translateX(-50%) scaleX(0.775)">5</span>
<span class="d" style="left:736.34px;top:572px;transform:translateX(-50%) scaleX(0.775)">6</span>
<span class="d" style="left:736.34px;top:600px;transform:translateX(-50%) scaleX(0.775)">7</span>
<span class="d" style="left:736.34px;top:628px;transform:translateX(-50%) scaleX(0.775)">8</span>
<span class="d" style="left:736.34px;top:656px;transform:translateX(-50%) scaleX(0.775)">9</span>
<span class="d" style="left:766.91px;top:489px;transform:translateX(-50%) scaleX(0.775)"><i>1</i>0</span>
<span class="d" style="left:766.91px;top:516px;transform:translateX(-50%) scaleX(0.775)"><i>1</i><i>1</i></span>
<span class="d" style="left:766.91px;top:544px;transform:translateX(-50%) scaleX(0.775)"><i>1</i>2</span>
<span class="d" style="left:766.91px;top:572px;transform:translateX(-50%) scaleX(0.775)"><i>1</i>3</span>
<span class="d" style="left:766.91px;top:600px;transform:translateX(-50%) scaleX(0.775)"><i>1</i>4</span>
<span class="d" style="left:766.91px;top:628px;transform:translateX(-50%) scaleX(0.775)"><i>1</i>5</span>
<span class="d" style="left:766.91px;top:656px;transform:translateX(-50%) scaleX(0.775)"><i>1</i>6</span>
<span class="d" style="left:797.79px;top:489px;transform:translateX(-50%) scaleX(0.775)"><i>1</i>7</span>
<span class="d" style="left:797.79px;top:516px;transform:translateX(-50%) scaleX(0.775)"><i>1</i>8</span>
<span class="d" style="left:797.79px;top:544px;transform:translateX(-50%) scaleX(0.775)"><i>1</i>9</span>
<span class="d" style="left:797.79px;top:572px;transform:translateX(-50%) scaleX(0.775)">20</span>
<span class="d" style="left:797.79px;top:600px;transform:translateX(-50%) scaleX(0.775)">2<i>1</i></span>
<span class="d" style="left:797.79px;top:628px;transform:translateX(-50%) scaleX(0.775)">22</span>
<span class="d" style="left:797.79px;top:656px;transform:translateX(-50%) scaleX(0.775)">23</span>
<span class="d" style="left:828.66px;top:489px;transform:translateX(-50%) scaleX(0.775)">24</span>
<span class="d" style="left:828.66px;top:516px;transform:translateX(-50%) scaleX(0.775)">25</span>
<span class="d" style="left:828.66px;top:544px;transform:translateX(-50%) scaleX(0.775)">26</span>
<span class="d" style="left:828.66px;top:572px;transform:translateX(-50%) scaleX(0.775)">27</span>
<span class="d" style="left:828.66px;top:600px;transform:translateX(-50%) scaleX(0.775)">28</span>
<span class="d" style="left:828.66px;top:628px;transform:translateX(-50%) scaleX(0.775)">29</span>
<span class="d" style="left:828.66px;top:656px;transform:translateX(-50%) scaleX(0.775)">30</span>
<span class="lab l" style="left:897.95px;top:435px;transform:scaleX(0.9493)">Lipiec</span>
<span class="wk" style="left:859.39px;top:463px;transform:translateX(-50%) scaleX(0.79)">27</span>
<span class="wk" style="left:890.26px;top:463px;transform:translateX(-50%) scaleX(0.79)">28</span>
<span class="wk" style="left:921.14px;top:463px;transform:translateX(-50%) scaleX(0.79)">29</span>
<span class="wk" style="left:952.01px;top:463px;transform:translateX(-50%) scaleX(0.79)">30</span>
<span class="wk" style="left:982.89px;top:463px;transform:translateX(-50%) scaleX(0.79)">3<i>1</i></span>
<span class="d" style="left:859.84px;top:489px;transform:translateX(-50%) scaleX(0.775)"><i>1</i></span>
<span class="d" style="left:859.84px;top:516px;transform:translateX(-50%) scaleX(0.775)">2</span>
<span class="d" style="left:859.84px;top:544px;transform:translateX(-50%) scaleX(0.775)">3</span>
<span class="d" style="left:859.84px;top:572px;transform:translateX(-50%) scaleX(0.775)">4</span>
<span class="d" style="left:859.84px;top:600px;transform:translateX(-50%) scaleX(0.775)">5</span>
<span class="d" style="left:859.84px;top:628px;transform:translateX(-50%) scaleX(0.775)">6</span>
<span class="d" style="left:859.84px;top:656px;transform:translateX(-50%) scaleX(0.775)">7</span>
<span class="d" style="left:890.71px;top:489px;transform:translateX(-50%) scaleX(0.775)">8</span>
<span class="d" style="left:890.71px;top:516px;transform:translateX(-50%) scaleX(0.775)">9</span>
<span class="d" style="left:890.41px;top:544px;transform:translateX(-50%) scaleX(0.775)"><i>1</i>0</span>
<span class="d" style="left:890.41px;top:572px;transform:translateX(-50%) scaleX(0.775)"><i>1</i><i>1</i></span>
<span class="d" style="left:890.41px;top:600px;transform:translateX(-50%) scaleX(0.775)"><i>1</i>2</span>
<span class="d" style="left:890.41px;top:628px;transform:translateX(-50%) scaleX(0.775)"><i>1</i>3</span>
<span class="d" style="left:890.41px;top:656px;transform:translateX(-50%) scaleX(0.775)"><i>1</i>4</span>
<span class="d" style="left:921.29px;top:489px;transform:translateX(-50%) scaleX(0.775)"><i>1</i>5</span>
<span class="d" style="left:921.29px;top:516px;transform:translateX(-50%) scaleX(0.775)"><i>1</i>6</span>
<span class="d" style="left:921.29px;top:544px;transform:translateX(-50%) scaleX(0.775)"><i>1</i>7</span>
<span class="d" style="left:921.29px;top:572px;transform:translateX(-50%) scaleX(0.775)"><i>1</i>8</span>
<span class="d" style="left:921.29px;top:600px;transform:translateX(-50%) scaleX(0.775)"><i>1</i>9</span>
<span class="d" style="left:921.29px;top:628px;transform:translateX(-50%) scaleX(0.775)">20</span>
<span class="d" style="left:921.29px;top:656px;transform:translateX(-50%) scaleX(0.775)">2<i>1</i></span>
<span class="d" style="left:952.16px;top:489px;transform:translateX(-50%) scaleX(0.775)">22</span>
<span class="d" style="left:952.16px;top:516px;transform:translateX(-50%) scaleX(0.775)">23</span>
<span class="d" style="left:952.16px;top:544px;transform:translateX(-50%) scaleX(0.775)">24</span>
<span class="d" style="left:952.16px;top:572px;transform:translateX(-50%) scaleX(0.775)">25</span>
<span class="d" style="left:952.16px;top:600px;transform:translateX(-50%) scaleX(0.775)">26</span>
<span class="d" style="left:952.16px;top:628px;transform:translateX(-50%) scaleX(0.775)">27</span>
<span class="d" style="left:952.16px;top:656px;transform:translateX(-50%) scaleX(0.775)">28</span>
<span class="d" style="left:983.04px;top:489px;transform:translateX(-50%) scaleX(0.775)">29</span>
<span class="d" style="left:983.04px;top:516px;transform:translateX(-50%) scaleX(0.775)">30</span>
<span class="d" style="left:983.04px;top:544px;transform:translateX(-50%) scaleX(0.775)">3<i>1</i></span>
<span class="lab l" style="left:1042.80px;top:435px;transform:scaleX(0.93)">Sierpień</span>
<span class="wk" style="left:1013.76px;top:463px;transform:translateX(-50%) scaleX(0.79)">3<i>1</i></span>
<span class="wk" style="left:1044.64px;top:463px;transform:translateX(-50%) scaleX(0.79)">32</span>
<span class="wk" style="left:1075.51px;top:463px;transform:translateX(-50%) scaleX(0.79)">33</span>
<span class="wk" style="left:1106.39px;top:463px;transform:translateX(-50%) scaleX(0.79)">34</span>
<span class="wk" style="left:1137.26px;top:463px;transform:translateX(-50%) scaleX(0.79)">35</span>
<span class="d" style="left:1014.21px;top:572px;transform:translateX(-50%) scaleX(0.775)"><i>1</i></span>
<span class="d" style="left:1014.21px;top:600px;transform:translateX(-50%) scaleX(0.775)">2</span>
<span class="d" style="left:1014.21px;top:628px;transform:translateX(-50%) scaleX(0.775)">3</span>
<span class="d" style="left:1014.21px;top:656px;transform:translateX(-50%) scaleX(0.775)">4</span>
<span class="d" style="left:1045.09px;top:489px;transform:translateX(-50%) scaleX(0.775)">5</span>
<span class="d" style="left:1045.09px;top:516px;transform:translateX(-50%) scaleX(0.775)">6</span>
<span class="d" style="left:1045.09px;top:544px;transform:translateX(-50%) scaleX(0.775)">7</span>
<span class="d" style="left:1045.09px;top:572px;transform:translateX(-50%) scaleX(0.775)">8</span>
<span class="d" style="left:1045.09px;top:600px;transform:translateX(-50%) scaleX(0.775)">9</span>
<span class="d" style="left:1044.79px;top:628px;transform:translateX(-50%) scaleX(0.775)"><i>1</i>0</span>
<span class="d" style="left:1044.79px;top:656px;transform:translateX(-50%) scaleX(0.775)"><i>1</i><i>1</i></span>
<span class="d" style="left:1075.66px;top:489px;transform:translateX(-50%) scaleX(0.775)"><i>1</i>2</span>
<span class="d" style="left:1075.66px;top:516px;transform:translateX(-50%) scaleX(0.775)"><i>1</i>3</span>
<span class="d" style="left:1075.66px;top:544px;transform:translateX(-50%) scaleX(0.775)"><i>1</i>4</span>
<span class="d" style="left:1075.66px;top:572px;transform:translateX(-50%) scaleX(0.775)"><i>1</i>5</span>
<span class="d" style="left:1075.66px;top:600px;transform:translateX(-50%) scaleX(0.775)"><i>1</i>6</span>
<span class="d" style="left:1075.66px;top:628px;transform:translateX(-50%) scaleX(0.775)"><i>1</i>7</span>
<span class="d" style="left:1075.66px;top:656px;transform:translateX(-50%) scaleX(0.775)"><i>1</i>8</span>
<span class="d" style="left:1106.54px;top:489px;transform:translateX(-50%) scaleX(0.775)"><i>1</i>9</span>
<span class="d" style="left:1106.54px;top:516px;transform:translateX(-50%) scaleX(0.775)">20</span>
<span class="d" style="left:1106.54px;top:544px;transform:translateX(-50%) scaleX(0.775)">2<i>1</i></span>
<span class="d" style="left:1106.54px;top:572px;transform:translateX(-50%) scaleX(0.775)">22</span>
<span class="d" style="left:1106.54px;top:600px;transform:translateX(-50%) scaleX(0.775)">23</span>
<span class="d" style="left:1106.54px;top:628px;transform:translateX(-50%) scaleX(0.775)">24</span>
<span class="d" style="left:1106.54px;top:656px;transform:translateX(-50%) scaleX(0.775)">25</span>
<span class="d" style="left:1137.41px;top:489px;transform:translateX(-50%) scaleX(0.775)">26</span>
<span class="d" style="left:1137.41px;top:516px;transform:translateX(-50%) scaleX(0.775)">27</span>
<span class="d" style="left:1137.41px;top:544px;transform:translateX(-50%) scaleX(0.775)">28</span>
<span class="d" style="left:1137.41px;top:572px;transform:translateX(-50%) scaleX(0.775)">29</span>
<span class="d" style="left:1137.41px;top:600px;transform:translateX(-50%) scaleX(0.775)">30</span>
<span class="d" style="left:1137.41px;top:628px;transform:translateX(-50%) scaleX(0.775)">3<i>1</i></span>
<span class="lab l" style="left:1209.90px;top:435px;transform:scaleX(0.9033)">Wrzesień</span>
<span class="wk" style="left:1168.14px;top:463px;transform:translateX(-50%) scaleX(0.79)">35</span>
<span class="wk" style="left:1199.01px;top:463px;transform:translateX(-50%) scaleX(0.79)">36</span>
<span class="wk" style="left:1229.89px;top:463px;transform:translateX(-50%) scaleX(0.79)">37</span>
<span class="wk" style="left:1260.76px;top:463px;transform:translateX(-50%) scaleX(0.79)">38</span>
<span class="wk" style="left:1291.64px;top:463px;transform:translateX(-50%) scaleX(0.79)">39</span>
<span class="wk" style="left:1322.51px;top:463px;transform:translateX(-50%) scaleX(0.79)">40</span>
<span class="d" style="left:1168.59px;top:656px;transform:translateX(-50%) scaleX(0.775)"><i>1</i></span>
<span class="d" style="left:1199.46px;top:489px;transform:translateX(-50%) scaleX(0.775)">2</span>
<span class="d" style="left:1199.46px;top:516px;transform:translateX(-50%) scaleX(0.775)">3</span>
<span class="d" style="left:1199.46px;top:544px;transform:translateX(-50%) scaleX(0.775)">4</span>
<span class="d" style="left:1199.46px;top:572px;transform:translateX(-50%) scaleX(0.775)">5</span>
<span class="d" style="left:1199.46px;top:600px;transform:translateX(-50%) scaleX(0.775)">6</span>
<span class="d" style="left:1199.46px;top:628px;transform:translateX(-50%) scaleX(0.775)">7</span>
<span class="d" style="left:1199.46px;top:656px;transform:translateX(-50%) scaleX(0.775)">8</span>
<span class="d" style="left:1230.34px;top:489px;transform:translateX(-50%) scaleX(0.775)">9</span>
<span class="d" style="left:1230.04px;top:516px;transform:translateX(-50%) scaleX(0.775)"><i>1</i>0</span>
<span class="d" style="left:1230.04px;top:544px;transform:translateX(-50%) scaleX(0.775)"><i>1</i><i>1</i></span>
<span class="d" style="left:1230.04px;top:572px;transform:translateX(-50%) scaleX(0.775)"><i>1</i>2</span>
<span class="d" style="left:1230.04px;top:600px;transform:translateX(-50%) scaleX(0.775)"><i>1</i>3</span>
<span class="d" style="left:1230.04px;top:628px;transform:translateX(-50%) scaleX(0.775)"><i>1</i>4</span>
<span class="d" style="left:1230.04px;top:656px;transform:translateX(-50%) scaleX(0.775)"><i>1</i>5</span>
<span class="d" style="left:1260.91px;top:489px;transform:translateX(-50%) scaleX(0.775)"><i>1</i>6</span>
<span class="d" style="left:1260.91px;top:516px;transform:translateX(-50%) scaleX(0.775)"><i>1</i>7</span>
<span class="d" style="left:1260.91px;top:544px;transform:translateX(-50%) scaleX(0.775)"><i>1</i>8</span>
<span class="d" style="left:1260.91px;top:572px;transform:translateX(-50%) scaleX(0.775)"><i>1</i>9</span>
<span class="d" style="left:1260.91px;top:600px;transform:translateX(-50%) scaleX(0.775)">20</span>
<span class="d" style="left:1260.91px;top:628px;transform:translateX(-50%) scaleX(0.775)">2<i>1</i></span>
<span class="d" style="left:1260.91px;top:656px;transform:translateX(-50%) scaleX(0.775)">22</span>
<span class="d" style="left:1291.79px;top:489px;transform:translateX(-50%) scaleX(0.775)">23</span>
<span class="d" style="left:1291.79px;top:516px;transform:translateX(-50%) scaleX(0.775)">24</span>
<span class="d" style="left:1291.79px;top:544px;transform:translateX(-50%) scaleX(0.775)">25</span>
<span class="d" style="left:1291.79px;top:572px;transform:translateX(-50%) scaleX(0.775)">26</span>
<span class="d" style="left:1291.79px;top:600px;transform:translateX(-50%) scaleX(0.775)">27</span>
<span class="d" style="left:1291.79px;top:628px;transform:translateX(-50%) scaleX(0.775)">28</span>
<span class="d" style="left:1291.79px;top:656px;transform:translateX(-50%) scaleX(0.775)">29</span>
<span class="d" style="left:1322.66px;top:489px;transform:translateX(-50%) scaleX(0.775)">30</span>
<span class="lab" style="left:165.90px;top:462px;transform:translateX(-50%) scaleX(0.9)">Tydzień</span>
<span class="lab" style="left:165.90px;top:490px;transform:translateX(-50%) scaleX(0.9)">Poniedziałek</span>
<span class="lab" style="left:165.90px;top:518px;transform:translateX(-50%) scaleX(0.9)">Wtorek</span>
<span class="lab" style="left:165.90px;top:546px;transform:translateX(-50%) scaleX(0.9)">Środa</span>
<span class="lab" style="left:165.90px;top:574px;transform:translateX(-50%) scaleX(0.9)">Czwartek</span>
<span class="lab" style="left:165.90px;top:602px;transform:translateX(-50%) scaleX(0.9)">Piątek</span>
<span class="lab" style="left:165.90px;top:630px;transform:translateX(-50%) scaleX(0.9)">Sobota</span>
<span class="lab" style="left:165.90px;top:657px;transform:translateX(-50%) scaleX(0.9)">Niedziela</span>
<span class="st l" style="left:654.50px;top:401px;transform:scaleX(0.8531)">Semestr letni</span>
<span class="ti l" style="left:403.93px;top:37px;transform:scaleX(0.6707);letter-spacing:1.2px">ROK </span>
<span class="ti l" style="left:457.10px;top:37px;transform:scaleX(0.7118);letter-spacing:1.2px">AKADEMICKI </span>
<span class="ti l" style="left:605.16px;top:37px;transform:scaleX(0.8424);letter-spacing:1.2px">2023/2024</span>
<span class="leg l" style="left:107.77px;top:712px;transform:scaleX(0.8287)">LEGENDA:</span>
<span class="leg l" style="left:299.50px;top:739px;transform:scaleX(1.143)">-</span>
<span class="leg l" style="left:321.80px;top:739px;transform:scaleX(0.8796)">zajęcia</span>
<span class="leg l" style="left:299.50px;top:766px;transform:scaleX(1.143)">-</span>
<span class="leg l" style="left:321.80px;top:766px;transform:scaleX(0.9038)">dni świąteczne</span>
<span class="leg l" style="left:299.50px;top:794px;transform:scaleX(1.143)">-</span>
<span class="leg l" style="left:321.40px;top:794px;transform:scaleX(0.8974)">przerwa międzysemestralna</span>
<span class="leg l" style="left:299.50px;top:822px;transform:scaleX(1.143)">-</span>
<span class="leg l" style="left:321.30px;top:822px;transform:scaleX(0.8841)">dodatkowe dni wolne od zajęć (4 października - inauguracja roku akademickiego, 15 października - Dzień Rektorski,</span>
<span class="leg l" style="left:321.12px;top:850px;transform:scaleX(0.8804)">2 maja - Dzień Rektorski, 8 maja - Dzień Sportu, 7 czerwca - Igry Studenckie)</span>
<span class="leg l" style="left:732.30px;top:739px;transform:scaleX(1.129)">-</span>
<span class="leg l" style="left:755.09px;top:739px;transform:scaleX(0.891)">wakacje zimowe, wiosenne i letnie</span>
<span class="leg l" style="left:732.30px;top:766px;transform:scaleX(1.129)">-</span>
<span class="leg l" style="left:753.80px;top:766px;transform:scaleX(0.8812)">sesja egzaminacyjna</span>
<span class="leg l" style="left:732.30px;top:794px;transform:scaleX(1.129)">-</span>
<span class="leg l" style="left:753.80px;top:794px;transform:scaleX(0.8865)">sesja egzaminacyjna poprawkowa</span>
<span class="leg l" style="left:290.42px;top:904px;transform:scaleX(0.8819)">Dodatkowe dni przeznaczone na wykonanie </span>
<span class="leg l" style="left:659.70px;top:904px;transform:scaleX(0.8958)">niezrealizowanych zajęć programowych lub organizację terminów zerowych egzaminów:</span>
<span class="leg l" style="left:290.70px;top:932px;transform:scaleX(0.8463)">31 stycznia, 1 lutego</span>
<span class="leg l" style="left:290.13px;top:960px;transform:scaleX(0.8657)">28 czerwca, 1 lipca</span>
</body></html>
